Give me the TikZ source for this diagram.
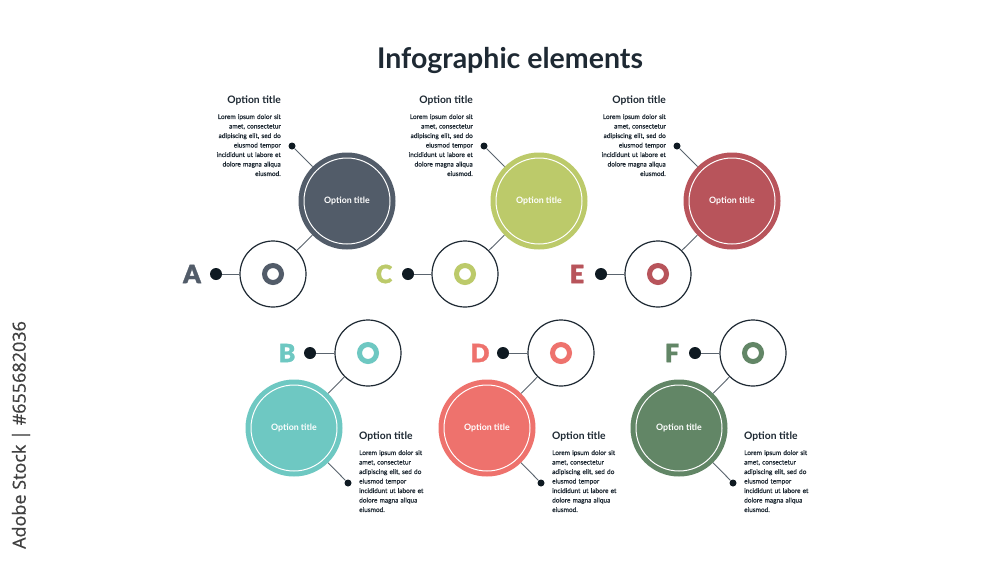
\documentclass[tikz,border=0pt]{standalone}
\usepackage{fontspec}
\setmainfont{Lato}
\newfontfamily\heavyfont{Lato Black}[FakeBold=1.2]
\newfontfamily\bodyfont{Lato}[FakeBold=0.5]
\newfontfamily\wmfont{Open Sans}[FakeBold=0.6]
\definecolor{cA}{HTML}{525C69}
\definecolor{cC}{HTML}{BCCA6A}
\definecolor{cE}{HTML}{B8545B}
\definecolor{cB}{HTML}{6EC8C2}
\definecolor{cD}{HTML}{EE726D}
\definecolor{cF}{HTML}{628666}
\definecolor{ink}{HTML}{1E2933}
\definecolor{dotc}{HTML}{0F1A22}
\definecolor{linec}{HTML}{5A646E}
\tikzset{
  bigc/.style={circle,minimum size=97pt,inner sep=0pt,fill=#1,
    text=white,font=\fontsize{8.8}{10}\selectfont\bfseries},
  innerring/.style={circle,minimum size=86pt,inner sep=0pt,draw=white,line width=1pt},
  smallc/.style={circle,minimum size=66pt,inner sep=0pt,draw=ink,line width=1.2pt,fill=white},
  oring/.style={circle,minimum size=17pt,inner sep=0pt,draw=#1,line width=5pt},
  bigdot/.style={circle,minimum size=12pt,inner sep=0pt,fill=dotc},
  tdot/.style={circle,minimum size=7pt,inner sep=0pt,fill=dotc},
  letter/.style={text=#1,font=\heavyfont\fontsize{25}{25}\selectfont,inner sep=0pt},
  conn/.style={draw=linec,line width=0.9pt},
  otitle/.style={text=ink,font=\fontsize{10.3}{12}\selectfont\bfseries,inner sep=0pt},
  obody/.style={text=ink,font=\bodyfont\fontsize{6.5}{9.5}\selectfont,inner sep=0pt,text width=80pt},
}
\newcommand{\bodytext}{Lorem ipsum dolor sit\\amet, consectetur\\adipiscing elit, sed do\\eiusmod tempor\\incididunt ut labore et\\dolore magna aliqua\\eiusmod.}
\newcommand{\topitem}[4]{%
  \node[bigc=#4] (big#1) at (#2,201) {Option title};
  \node[innerring] (ring#1) at (#2,201) {};
  \node[smallc] (small#1) at (#2-74,274) {};
  \node[oring=#4] (o#1) at (#2-74,274) {};
  \node[bigdot] (dot#1) at (#2-131,274) {};
  \node[letter=#4] (let#1) at (#2-155,274) {#3};
  \node[tdot] (tdot#1) at (#2-55,146) {};
  \node[otitle,anchor=east] (tt#1) at (#2-66,101) {Option title};
  \node[obody,align=right,anchor=north east] (tb#1) at (#2-66,114) {\bodytext};
  \draw[conn] (dot#1) -- (small#1);
  \draw[conn] (small#1) -- (big#1);
  \draw[conn] (tdot#1) -- (big#1);
}
\newcommand{\botitem}[4]{%
  \node[bigc=#4] (big#1) at (#2,428) {Option title};
  \node[innerring] (ring#1) at (#2,428) {};
  \node[smallc] (small#1) at (#2+74,353) {};
  \node[oring=#4] (o#1) at (#2+74,353) {};
  \node[bigdot] (dot#1) at (#2+16,353) {};
  \node[letter=#4] (let#1) at (#2-7,353) {#3};
  \node[tdot] (tdot#1) at (#2+54,483) {};
  \node[otitle,anchor=west] (tt#1) at (#2+65,437) {Option title};
  \node[obody,align=left,anchor=north west] (tb#1) at (#2+65,450) {\bodytext};
  \draw[conn] (dot#1) -- (small#1);
  \draw[conn] (small#1) -- (big#1);
  \draw[conn] (tdot#1) -- (big#1);
}
\begin{document}
\begin{tikzpicture}[x=1pt,y=-1pt]
\useasboundingbox[fill=white] (0,0) rectangle (1000,563);
\node[text=ink,font=\fontsize{28.5}{30}\selectfont\bfseries] (title) at (510,60) {Infographic elements};
\topitem{A}{347}{A}{cA}
\topitem{C}{539}{C}{cC}
\topitem{E}{732}{E}{cE}
\botitem{B}{294}{B}{cB}
\botitem{D}{487}{D}{cD}
\botitem{F}{679}{F}{cF}
\node[rotate=90,text=black!75,font=\wmfont\fontsize{18}{19}\selectfont] (wm) at (21,435) {Adobe Stock | \#655682036};
\end{tikzpicture}
\end{document}
